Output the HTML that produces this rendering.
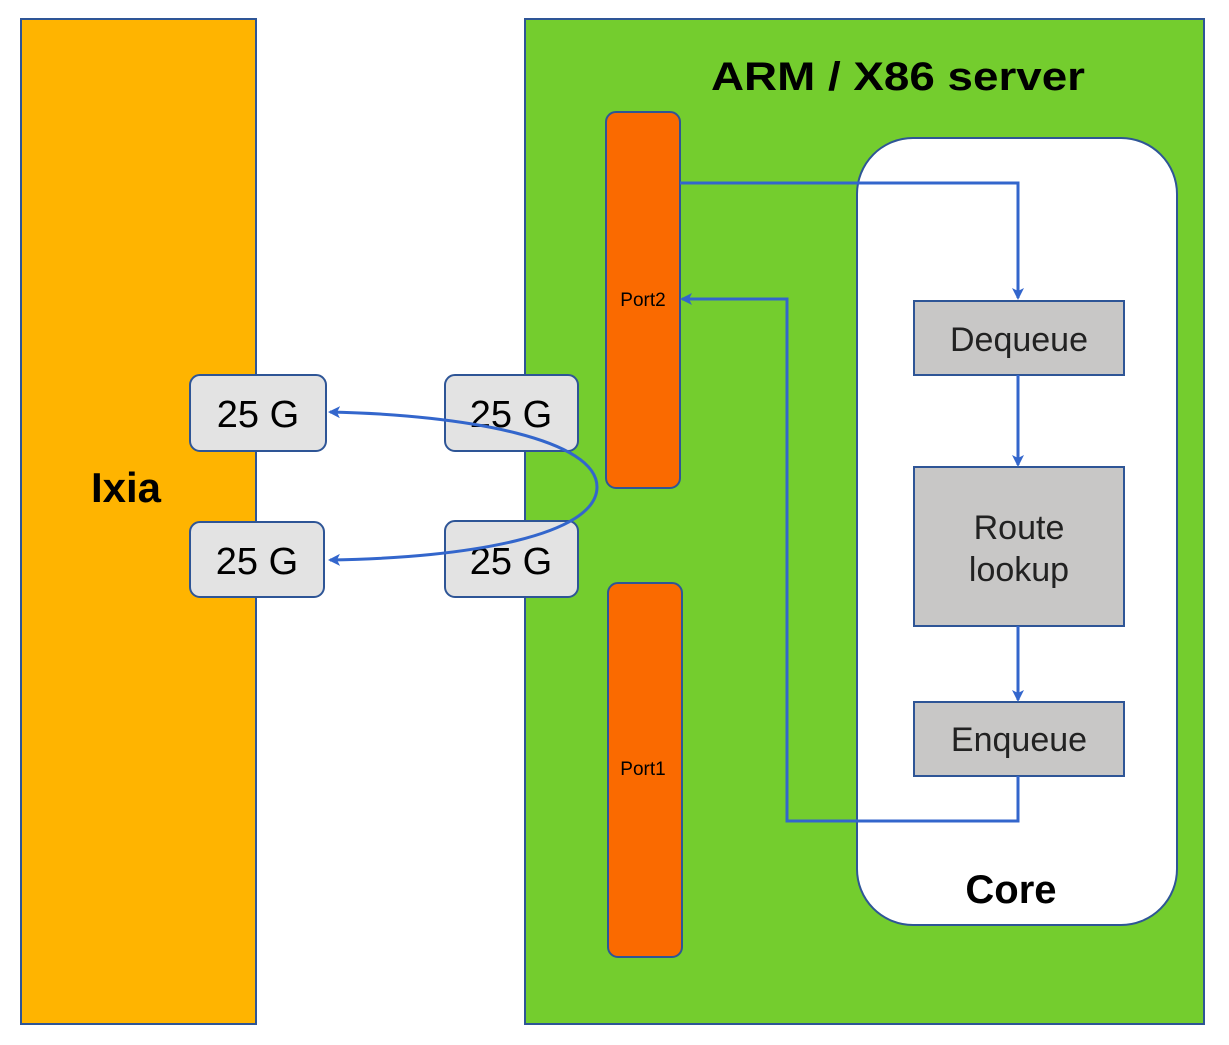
<!DOCTYPE html>
<html><head><meta charset="utf-8"><style>
html,body{margin:0;padding:0;background:#fff;}
svg{display:block;}
text{font-family:"Liberation Sans",sans-serif;}
</style></head><body>
<svg width="1229" height="1045" viewBox="0 0 1229 1045" xmlns="http://www.w3.org/2000/svg">
<defs>
<marker id="ar" markerWidth="12" markerHeight="12" refX="10" refY="6" orient="auto" markerUnits="userSpaceOnUse">
<path d="M0,0 L12,6 L0,12 L3,6 Z" fill="#3366cc"/>
</marker>
</defs>
<rect x="21" y="19" width="235" height="1005" fill="#ffb400" stroke="#2e5596" stroke-width="2"/>
<rect x="525" y="19" width="679" height="1005" fill="#74cd2e" stroke="#2e5596" stroke-width="2"/>
<text x="898" y="90" font-size="40" font-weight="bold" text-anchor="middle" textLength="374" lengthAdjust="spacingAndGlyphs">ARM / X86 server</text>
<text x="126" y="502" font-size="42" font-weight="bold" text-anchor="middle">Ixia</text>
<rect x="606" y="112" width="74" height="376" rx="10" fill="#fa6a00" stroke="#2e5596" stroke-width="2"/>
<rect x="608" y="583" width="74" height="374" rx="10" fill="#fa6a00" stroke="#2e5596" stroke-width="2"/>
<text x="643" y="306" font-size="19" text-anchor="middle">Port2</text>
<text x="643" y="775" font-size="19" text-anchor="middle">Port1</text>
<rect x="857" y="138" width="320" height="787" rx="56" fill="#fff" stroke="#2e5596" stroke-width="2"/>
<text x="1011" y="903" font-size="40" font-weight="bold" text-anchor="middle">Core</text>
<rect x="914" y="301" width="210" height="74" fill="#c8c7c6" stroke="#2e5596" stroke-width="2"/>
<rect x="914" y="467" width="210" height="159" fill="#c8c7c6" stroke="#2e5596" stroke-width="2"/>
<rect x="914" y="702" width="210" height="74" fill="#c8c7c6" stroke="#2e5596" stroke-width="2"/>
<g font-size="34" fill="#222" text-anchor="middle">
<text x="1019" y="351">Dequeue</text>
<text x="1019" y="539">Route</text>
<text x="1019" y="581">lookup</text>
<text x="1019" y="751">Enqueue</text>
</g>
<g fill="#e3e3e3" stroke="#2e5596" stroke-width="2">
<rect x="190" y="375" width="136" height="76" rx="10"/>
<rect x="190" y="522" width="134" height="75" rx="10"/>
<rect x="445" y="375" width="133" height="76" rx="10"/>
<rect x="445" y="521" width="133" height="76" rx="10"/>
</g>
<g font-size="38" text-anchor="middle">
<text x="258" y="427">25 G</text>
<text x="257" y="574">25 G</text>
<text x="511" y="427">25 G</text>
<text x="511" y="574">25 G</text>
</g>
<g fill="none" stroke="#3366cc" stroke-width="3">
<polyline points="680,183 1018,183 1018,298" marker-end="url(#ar)"/>
<line x1="1018" y1="375" x2="1018" y2="465" marker-end="url(#ar)"/>
<line x1="1018" y1="626" x2="1018" y2="700" marker-end="url(#ar)"/>
<polyline points="1018,776 1018,821 787,821 787,299 682,299" marker-end="url(#ar)"/>
<path d="M 597,487 C 597,440 470,415 330,412" marker-end="url(#ar)"/>
<path d="M 597,487 C 597,535 470,558 330,560" marker-end="url(#ar)"/>
</g>
</svg>
</body></html>
